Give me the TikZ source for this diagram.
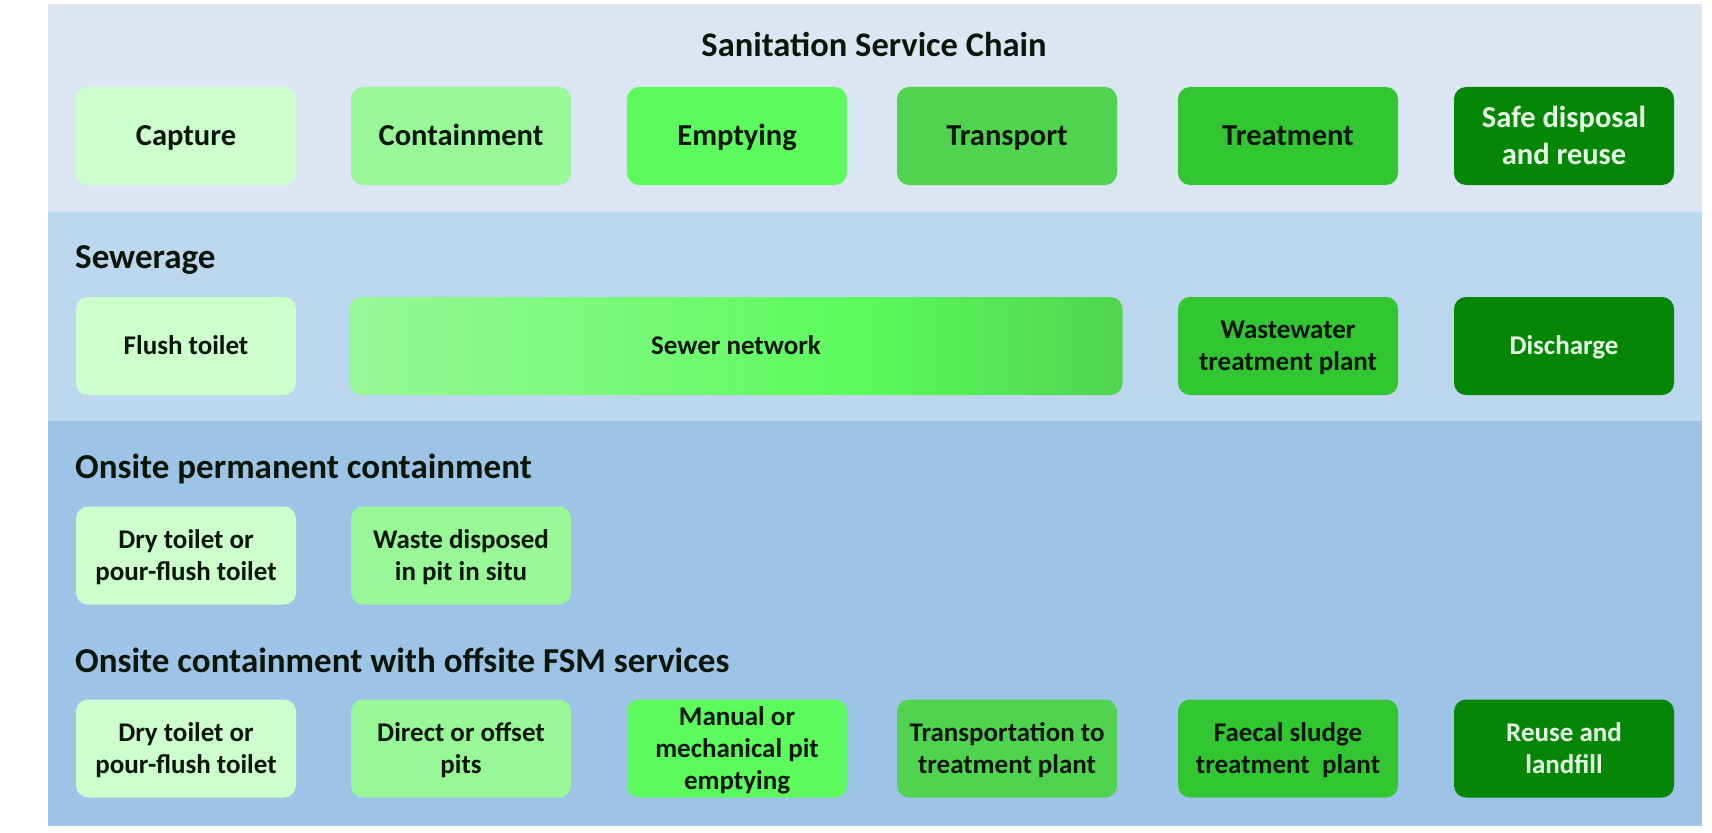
\documentclass[tikz,border=0pt]{standalone}
\usepackage{fontspec}
\setmainfont{Carlito}
\definecolor{bandA}{HTML}{DCE6F2}
\definecolor{bandB}{HTML}{BDD7EE}
\definecolor{bandC}{HTML}{9DC3E6}
\definecolor{gA}{HTML}{CCFFCC}
\definecolor{gB}{HTML}{98F898}
\definecolor{gC}{HTML}{5CFA5C}
\definecolor{gD}{HTML}{50D450}
\definecolor{gE}{HTML}{33C633}
\definecolor{gF}{HTML}{058705}
\definecolor{txt}{HTML}{0A160A}
\definecolor{wtxt}{HTML}{E6FFE6}
\newcommand\mystrut{\rule[-0.25em]{0pt}{1.14em}}
\pgfdeclarehorizontalshading{sewershade}{100bp}{color(0bp)=(gB); color(25bp)=(gB); color(58bp)=(gC); color(75bp)=(gD); color(100bp)=(gD)}
\tikzset{
  box/.style={rounded corners=12pt, minimum width=220pt, minimum height=98pt,
    inner sep=0pt, align=center, text=txt,
    font=\fontsize{27}{32}\selectfont\bfseries},
  toprow/.style={font=\fontsize{30.5}{36.5}\selectfont\bfseries},
  section/.style={anchor=base west, inner sep=0pt, text=txt,
    font=\fontsize{35}{40}\selectfont\bfseries},
  darkbox/.style={box, fill=gF, text=wtxt}
}
\begin{document}
\begin{tikzpicture}[x=1pt,y=-1pt]
\useasboundingbox (0,0) rectangle (1712,832);
\fill[white] (0,0) rectangle (1712,832);
\fill[bandA] (48,4) rectangle (1702,212);
\fill[bandB] (48,212) rectangle (1702,421);
\fill[bandC] (48,421) rectangle (1702,826);

% title
\node[text=txt, font=\fontsize{34.5}{40}\selectfont\bfseries, inner sep=0pt] (title) at (874,45) {\mystrut Sanitation Service Chain};

% row 1
\node[box, toprow, fill=gA] (capture) at (186,136) {\mystrut Capture};
\node[box, toprow, fill=gB] (containment) at (461,136) {\mystrut Containment};
\node[box, toprow, fill=gC] (emptying) at (737,136) {\mystrut Emptying};
\node[box, toprow, fill=gD] (transport) at (1007,136) {\mystrut Transport};
\node[box, toprow, fill=gE] (treatment) at (1288,136) {\mystrut Treatment};
\node[darkbox, toprow] (safe) at (1564,136) {\mystrut Safe disposal\\\mystrut and reuse};

% sewerage
\node[section] (sewlabel) at (75,268) {Sewerage};
\node[box, fill=gA] (flush) at (186,346) {\mystrut Flush toilet};
\node[box, minimum width=773pt, shading=sewershade] (sewer) at (736,346) {\mystrut Sewer network};
\node[box, fill=gE] (wwtp) at (1288,346) {\mystrut Wastewater\\\mystrut treatment plant};
\node[darkbox] (discharge) at (1564,346) {\mystrut Discharge};

% onsite permanent
\node[section] (permlabel) at (75,478) {Onsite permanent containment};
\node[box, fill=gA] (dry1) at (186,555.5) {\mystrut Dry toilet or\\\mystrut pour-flush toilet};
\node[box, fill=gB] (waste) at (461,555.5) {\mystrut Waste disposed\\\mystrut in pit in situ};

% onsite with offsite FSM
\node[section] (fsmlabel) at (75,672) {Onsite containment with offsite FSM services};
\node[box, fill=gA] (dry2) at (186,748.5) {\mystrut Dry toilet or\\\mystrut pour-flush toilet};
\node[box, fill=gB] (pits) at (461,748.5) {\mystrut Direct or offset\\\mystrut pits};
\node[box, fill=gC] (manual) at (737,748.5) {\mystrut Manual or\\\mystrut mechanical pit\\\mystrut emptying};
\node[box, fill=gD] (transp) at (1007,748.5) {\mystrut Transportation to\\\mystrut treatment plant};
\node[box, fill=gE] (fstp) at (1288,748.5) {\mystrut Faecal sludge\\\mystrut treatment\ \ plant};
\node[darkbox] (reuse) at (1564,748.5) {\mystrut Reuse and\\\mystrut landfill};
\end{tikzpicture}
\end{document}
